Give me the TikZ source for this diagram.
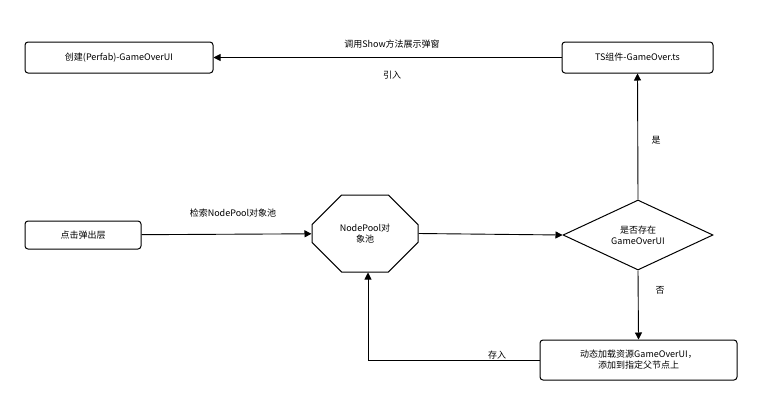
\documentclass[tikz,border=0pt]{standalone}
\usepackage{fontspec}
\setmainfont{Noto Sans CJK SC}
\usetikzlibrary{shapes.geometric,shapes.misc,arrows.meta}
\begin{document}
\begin{tikzpicture}[x=1pt,y=-1pt,font=\fontsize{9}{11}\selectfont,
  box/.style={draw,line width=1pt,rounded corners=3pt,inner sep=0pt},
  arr/.style={draw,line width=0.9pt,-{Triangle[length=7pt,width=7pt]}},
  lbl/.style={inner sep=1pt}]
\useasboundingbox (0,0) rectangle (762,405);
\node[box,minimum width=188pt,minimum height=31pt] (create) at (119,57.5) {创建(Perfab)-GameOverUI};
\node[box,minimum width=151pt,minimum height=31pt] (ts) at (637.5,57.5) {TS组件-GameOver.ts};
\node[box,minimum width=116pt,minimum height=28pt] (click) at (83,235) {点击弹出层};
\node[draw,line width=1pt,chamfered rectangle,chamfered rectangle xsep=20pt,chamfered rectangle ysep=20pt,minimum width=106pt,minimum height=77pt,inner sep=0pt,align=center] (pool) at (365,233.5) {NodePool对\\象池};
\node[draw,line width=1pt,diamond,minimum width=150pt,minimum height=70pt,inner sep=0pt,aspect=2.14,align=center] (dia) at (638,235) {是否存在\\GameOverUI};
\node[box,minimum width=197pt,minimum height=40pt,align=center] (load) at (638.5,360) {动态加载资源GameOverUI，\\添加到指定父节点上};
\coordinate (corner) at (368,360);
\draw[arr] (ts) -- (create);
\draw[arr] (dia.north) -- (ts.south);
\draw[arr] (click) -- (pool);
\draw[arr] (pool.east) -- (dia.west);
\draw[arr] (dia.south) -- (load.north);
\draw[arr] (load.west) -- (corner) -- (corner |- pool.south);
\node[lbl] (l1) at (392,44) {调用Show方法展示弹窗};
\node[lbl] (l2) at (392,75) {引入};
\node[lbl] (l3) at (656,140) {是};
\node[lbl] (l4) at (233,213) {检索NodePool对象池};
\node[lbl] (l5) at (660,290) {否};
\node[lbl] (l6) at (497,355) {存入};
\end{tikzpicture}
\end{document}
